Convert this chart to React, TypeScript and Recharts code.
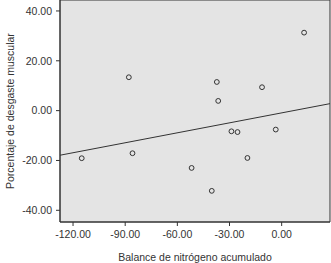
import React from 'react';
import { ScatterChart, Scatter, XAxis, YAxis, ReferenceArea, ReferenceLine } from 'recharts';

const balanceN = [-115, -87.9, -85.8, -51.8, -40.2, -37.3, -36.5, -28.9, -25.4, -19.7, -11.3, -3.4, 12.9];
const desgaste = [-19.1, 13.4, -17.1, -23.0, -32.2, 11.5, 3.9, -8.3, -8.6, -19.0, 9.4, -7.6, 31.3];
const xTicks = [-120, -90, -60, -30, 0];
const yTicks = [-40, -20, 0, 20, 40];
const xDomain = [-127.5, 27.8];
const yDomain = [-44.7, 44.4];
const fitX = [-127.5, 27.8];
const fitY = [-17.9, 2.8];

const data = balanceN.map((x, i) => ({ x, y: desgaste[i] }));
const fmt = (v: number) => v.toFixed(2);
const FONT = '"Liberation Sans", Arial, sans-serif';

const Ring = (props: any) => (
  <circle cx={props.cx} cy={props.cy} r={2.4} fill="none" stroke="#333" strokeWidth={1} />
);

export default function App() {
  return (
    <div style={{ position: 'absolute', left: 0, top: 0, background: '#fff' }}>
      <ScatterChart width={331} height={263} margin={{ top: 0, right: 1, bottom: 0, left: 0 }}>
        <XAxis
          type="number"
          dataKey="x"
          domain={xDomain}
          ticks={xTicks}
          allowDataOverflow
          tickFormatter={fmt}
          height={41}
          stroke="#333"
          tickSize={4}
          tick={{ fill: '#333', fontSize: 10.5, fontFamily: FONT, dy: 3 }}
          label={{ value: 'Balance de nitrógeno acumulado', position: 'insideBottom', offset: 2, fill: '#333', fontSize: 10.5, fontFamily: FONT }}
        />
        <YAxis
          type="number"
          dataKey="y"
          domain={yDomain}
          ticks={yTicks}
          allowDataOverflow
          tickFormatter={fmt}
          width={60}
          stroke="#333"
          tickSize={4}
          tick={{ fill: '#333', fontSize: 10.5, fontFamily: FONT, dx: -2 }}
          label={{ value: 'Porcentaje de desgaste muscular', angle: -90, position: 'insideLeft', offset: 10, dy: 78, fill: '#333', fontSize: 10.5, fontFamily: FONT }}
        />
        <ReferenceArea x1={xDomain[0]} x2={xDomain[1]} y1={yDomain[0]} y2={yDomain[1]} fill="#e4e4e4" fillOpacity={1} stroke="#333" strokeWidth={1} />
        <ReferenceLine segment={[{ x: fitX[0], y: fitY[0] }, { x: fitX[1], y: fitY[1] }]} stroke="#333" strokeWidth={1} />
        <Scatter data={data} shape={Ring} isAnimationActive={false} />
      </ScatterChart>
    </div>
  );
}
